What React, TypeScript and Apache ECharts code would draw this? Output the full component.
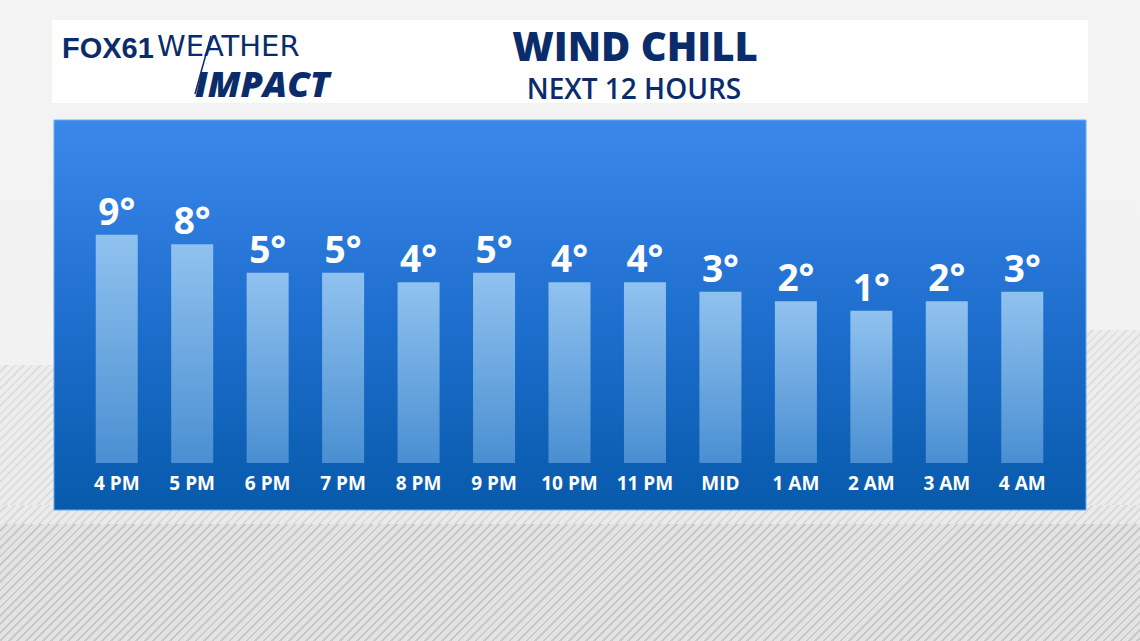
import React, { useEffect, useRef } from "react";
import * as echarts from "echarts";

const hours = ["4 PM", "5 PM", "6 PM", "7 PM", "8 PM", "9 PM", "10 PM", "11 PM", "MID", "1 AM", "2 AM", "3 AM", "4 AM"];
const windChill = [9, 8, 5, 5, 4, 5, 4, 4, 3, 2, 1, 2, 3];
const titleText = "WIND CHILL";
const subtitleText = "NEXT 12 HOURS";
// the panel floor sits this many degrees below zero; bars rise from it
const floorOffset = 15;

const NAVY = "#0b2c6a";

export default function App() {
  const ref = useRef<HTMLDivElement>(null);
  useEffect(() => {
    document.body.style.margin = "0";
    const chart = echarts.init(ref.current!, null, { renderer: "svg" });
    chart.setOption({
      animation: false,
      grid: { left: 79, right: 80, top: 130, bottom: 178 },
      xAxis: {
        type: "category",
        data: hours,
        axisLine: { show: false },
        axisTick: { show: false },
        axisLabel: {
          color: "#ffffff",
          fontFamily: "Open Sans",
          fontWeight: "bold",
          fontSize: 19,
          margin: 10,
        },
      },
      yAxis: {
        type: "value",
        min: 0,
        max: 35,
        show: false,
        splitLine: { show: false },
      },
      graphic: [
        {
          type: "rect",
          z: -10,
          shape: { x: 52, y: 20, width: 1036, height: 83 },
          style: { fill: "#ffffff" },
        },
        {
          type: "rect",
          z: -10,
          shape: { x: 54, y: 120, width: 1032, height: 390 },
          style: {
            fill: new echarts.graphic.LinearGradient(0, 0, 0, 1, [
              { offset: 0, color: "#3b88ea" },
              { offset: 0.5, color: "#1f6fcf" },
              { offset: 1, color: "#075aab" },
            ]),
            stroke: "#6aa8f0",
            lineWidth: 1,
          },
        },
        {
          type: "text",
          style: {
            text: titleText,
            x: 635,
            y: 45,
            align: "center",
            verticalAlign: "middle",
            fill: NAVY,
            fontFamily: "Open Sans",
            fontWeight: 800,
            fontSize: 40,
            lineHeight: 40,
          },
        },
        {
          type: "text",
          style: {
            text: subtitleText,
            x: 634,
            y: 88,
            align: "center",
            verticalAlign: "middle",
            fill: NAVY,
            fontFamily: "Open Sans",
            fontWeight: 600,
            fontSize: 28,
            lineHeight: 28,
          },
        },
        {
          type: "text",
          style: {
            text: "FOX61",
            x: 62,
            y: 48,
            verticalAlign: "middle",
            fill: NAVY,
            fontFamily: "Liberation Sans",
            fontWeight: 900,
            fontSize: 29,
            lineHeight: 29,
          },
        },
        {
          type: "text",
          style: {
            text: "WEATHER",
            x: 157,
            y: 46,
            verticalAlign: "middle",
            fill: NAVY,
            fontFamily: "DejaVu Sans",
            fontWeight: "normal",
            fontSize: 29,
            lineHeight: 29,
          },
        },
        {
          type: "text",
          style: {
            text: "IMPACT",
            x: 195,
            y: 83,
            verticalAlign: "middle",
            fill: NAVY,
            fontFamily: "Open Sans",
            fontStyle: "italic",
            fontWeight: 800,
            fontSize: 36,
            lineHeight: 32,
          },
        },
        {
          type: "line",
          shape: { x1: 211, y1: 36, x2: 195, y2: 94 },
          style: { stroke: NAVY, lineWidth: 1.5 },
        },
      ],
      series: [
        {
          type: "bar",
          data: windChill.map((v) => v + floorOffset),
          barWidth: 42,
          itemStyle: {
            color: new echarts.graphic.LinearGradient(0, 0, 0, 1, [
              { offset: 0, color: "#90c2ef" },
              { offset: 1, color: "#4a8fd2" },
            ]),
          },
          label: {
            show: true,
            position: "top",
            distance: 6,
            formatter: (p: any) => `${windChill[p.dataIndex]}°`,
            color: "#ffffff",
            fontFamily: "Open Sans",
            fontWeight: "bold",
            fontSize: 37,
          },
        },
      ],
    });
    return () => chart.dispose();
  }, []);
  return (
    <div
      style={{
        position: "fixed",
        left: 0,
        top: 0,
        width: 1140,
        height: 641,
        background:
          "linear-gradient(to bottom, rgba(0,0,0,0) 0, rgba(0,0,0,0) 523px, rgba(0,0,0,0.12) 524px, rgba(0,0,0,0.03) 534px, rgba(0,0,0,0) 540px), " +
          "linear-gradient(to bottom, #f3f3f3 0, #f1f1f1 520px, #e2e2e2 524px, #e2e2e2 641px)",
      }}
    >
      <div
        style={{
          position: "absolute",
          left: 0,
          top: 524,
          width: 1140,
          height: 117,
          background: "repeating-linear-gradient(135deg, #e3e3e3 0px, #e3e3e3 4px, #c9c9c9 4px, #c9c9c9 6px)",
        }}
      />
      <div
        style={{
          position: "absolute",
          left: 0,
          top: 505,
          width: 1140,
          height: 19,
          background: "repeating-linear-gradient(135deg, #ebebeb 0px, #ebebeb 4px, #dadada 4px, #dadada 6px)",
        }}
      />
      <div
        style={{
          position: "absolute",
          left: 0,
          top: 365,
          width: 54,
          height: 140,
          background: "repeating-linear-gradient(135deg, #ededed 0px, #ededed 4px, #dedede 4px, #dedede 6px)",
        }}
      />
      <div
        style={{
          position: "absolute",
          left: 1086,
          top: 330,
          width: 54,
          height: 175,
          background: "repeating-linear-gradient(135deg, #ededed 0px, #ededed 4px, #dedede 4px, #dedede 6px)",
        }}
      />
      <div ref={ref} style={{ position: "absolute", left: 0, top: 0, width: 1140, height: 641 }} />
    </div>
  );
}
